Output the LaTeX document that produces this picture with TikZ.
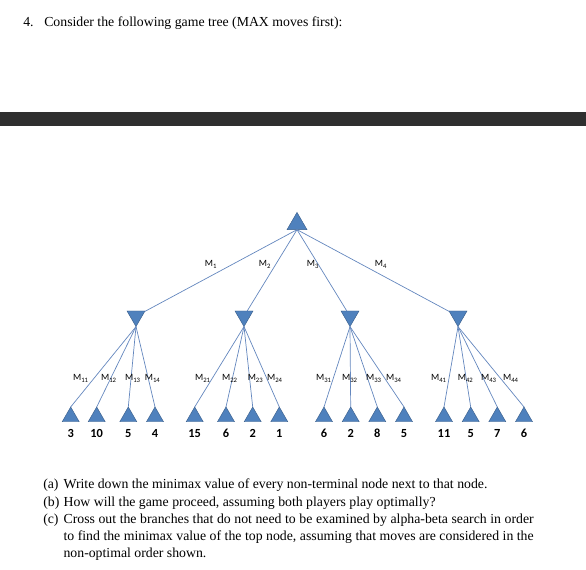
\documentclass[tikz,border=0pt]{standalone}
\usepackage{fontspec}
\setmainfont{Liberation Serif}
\newfontfamily\calibri{Carlito}
\usetikzlibrary{shapes.geometric,positioning}
\definecolor{nodeblue}{RGB}{79,129,189}
\definecolor{nodeline}{RGB}{56,93,138}
\definecolor{branchblue}{RGB}{100,135,190}
\definecolor{bargray}{RGB}{47,47,47}
\tikzset{maxnode/.style={regular polygon,regular polygon sides=3,fill=nodeblue,draw=nodeline,line width=0.3pt,inner sep=0pt,outer sep=0pt}}
\tikzset{minnode/.style={maxnode,shape border rotate=180,minimum size=0.52cm}}
\tikzset{leaf/.style={maxnode,minimum size=0.491cm}}
\tikzset{branch/.style={draw=branchblue,line width=0.5pt}}
\tikzset{mlab/.style={anchor=base,inner sep=0pt,font=\calibri\fontsize{6.8}{8}\selectfont}}
\tikzset{num/.style={inner sep=0pt,font=\calibri\bfseries\fontsize{8.8}{10}\selectfont}}
\tikzset{txt/.style={anchor=base west,inner sep=0pt,font=\fontsize{9.8}{12.34}\selectfont}}

\begin{document}
\begin{tikzpicture}[x=0.025cm,y=-0.025cm,node distance=5.1pt]
  \useasboundingbox (0,0) rectangle (586,570);
  \node[txt] (qnum) at (23,27) {4.};
  \node[txt] (qtext) at (44,27) {Consider the following game tree (MAX moves first):};
  \fill[bargray] (0,112) rectangle (586,126);
  % the tree
  \node[maxnode,minimum size=0.577cm] (root) at (297,223.9) {};
  \node[minnode] (m1) at (136,316.2) {};
  \node[minnode] (m2) at (244,316.2) {};
  \node[minnode] (m3) at (350,316.2) {};
  \node[minnode] (m4) at (458,316.2) {};
  \node[leaf] (l11) at (70.7,416.8) {}; \node[num,below=of l11] (n11) {3};
  \node[leaf] (l12) at (96.7,416.8) {}; \node[num,below=of l12] (n12) {10};
  \node[leaf] (l13) at (128.3,416.8) {}; \node[num,below=of l13] (n13) {5};
  \node[leaf] (l14) at (155,416.8) {}; \node[num,below=of l14] (n14) {4};
  \node[leaf] (l21) at (194.7,416.8) {}; \node[num,below=of l21] (n21) {15};
  \node[leaf] (l22) at (226,416.8) {}; \node[num,below=of l22] (n22) {6};
  \node[leaf] (l23) at (252.7,416.8) {}; \node[num,below=of l23] (n23) {2};
  \node[leaf] (l24) at (279.3,416.8) {}; \node[num,below=of l24] (n24) {1};
  \node[leaf] (l31) at (324,416.8) {}; \node[num,below=of l31] (n31) {6};
  \node[leaf] (l32) at (350.7,416.8) {}; \node[num,below=of l32] (n32) {2};
  \node[leaf] (l33) at (377.3,416.8) {}; \node[num,below=of l33] (n33) {8};
  \node[leaf] (l34) at (404,416.8) {}; \node[num,below=of l34] (n34) {5};
  \node[leaf] (l41) at (444,416.8) {}; \node[num,below=of l41] (n41) {11};
  \node[leaf] (l42) at (470.7,416.8) {}; \node[num,below=of l42] (n42) {5};
  \node[leaf] (l43) at (497.3,416.8) {}; \node[num,below=of l43] (n43) {7};
  \node[leaf] (l44) at (524,416.8) {}; \node[num,below=of l44] (n44) {6};
  % branches
  \draw[branch] (root.south) -- (m1);
  \draw[branch] (root.south) -- (m2);
  \draw[branch] (root.south) -- (m3);
  \draw[branch] (root.south) -- (m4);
  \draw[branch] (m1.south) -- (l11.north);
  \draw[branch] (m1.south) -- (l12.north);
  \draw[branch] (m1.south) -- (l13.north);
  \draw[branch] (m1.south) -- (l14.north);
  \draw[branch] (m2.south) -- (l21.north);
  \draw[branch] (m2.south) -- (l22.north);
  \draw[branch] (m2.south) -- (l23.north);
  \draw[branch] (m2.south) -- (l24.north);
  \draw[branch] (m3.south) -- (l31.north);
  \draw[branch] (m3.south) -- (l32.north);
  \draw[branch] (m3.south) -- (l33.north);
  \draw[branch] (m3.south) -- (l34.north);
  \draw[branch] (m4.south) -- (l41.north);
  \draw[branch] (m4.south) -- (l42.north);
  \draw[branch] (m4.south) -- (l43.north);
  \draw[branch] (m4.south) -- (l44.north);
  % move labels
  \node[mlab] (lm1) at (211,267) {M\textsubscript{1}};
  \node[mlab] (lm2) at (265,267) {M\textsubscript{2}};
  \node[mlab] (lm3) at (313,267) {M\textsubscript{3}};
  \node[mlab] (lm4) at (381,267) {M\textsubscript{4}};
  \node[mlab] (lm11) at (81,381) {M\textsubscript{11}};
  \node[mlab] (lm12) at (109,381) {M\textsubscript{12}};
  \node[mlab] (lm13) at (133,381) {M\textsubscript{13}};
  \node[mlab] (lm14) at (152.7,381) {M\textsubscript{14}};
  \node[mlab] (lm21) at (203,381) {M\textsubscript{21}};
  \node[mlab] (lm22) at (230,381) {M\textsubscript{22}};
  \node[mlab] (lm23) at (255.6,381) {M\textsubscript{23}};
  \node[mlab] (lm24) at (275,381) {M\textsubscript{24}};
  \node[mlab] (lm31) at (324,381) {M\textsubscript{31}};
  \node[mlab] (lm32) at (350,381) {M\textsubscript{32}};
  \node[mlab] (lm33) at (374,381) {M\textsubscript{33}};
  \node[mlab] (lm34) at (394,381) {M\textsubscript{34}};
  \node[mlab] (lm41) at (439,381) {M\textsubscript{41}};
  \node[mlab] (lm42) at (465.7,381) {M\textsubscript{42}};
  \node[mlab] (lm43) at (489,381) {M\textsubscript{43}};
  \node[mlab] (lm44) at (511,381) {M\textsubscript{44}};
  % questions
  \node[txt] (qa) at (43,488) {(a)};
  \node[txt] (ta) at (63.3,488) {Write down the minimax value of every non-terminal node next to that node.};
  \node[txt] (qb) at (43,506) {(b)};
  \node[txt] (tb) at (63.3,506) {How will the game proceed, assuming both players play optimally?};
  \node[txt] (qc) at (43,523) {(c)};
  \node[txt,text width=11.75cm,align=justify] (tc) at (63.3,523) {Cross out the branches that do not need to be examined by alpha-beta search in order\linebreak to find the minimax value of the top node, assuming that moves are considered in the\linebreak non-optimal order shown.};
\end{tikzpicture}
\end{document}
